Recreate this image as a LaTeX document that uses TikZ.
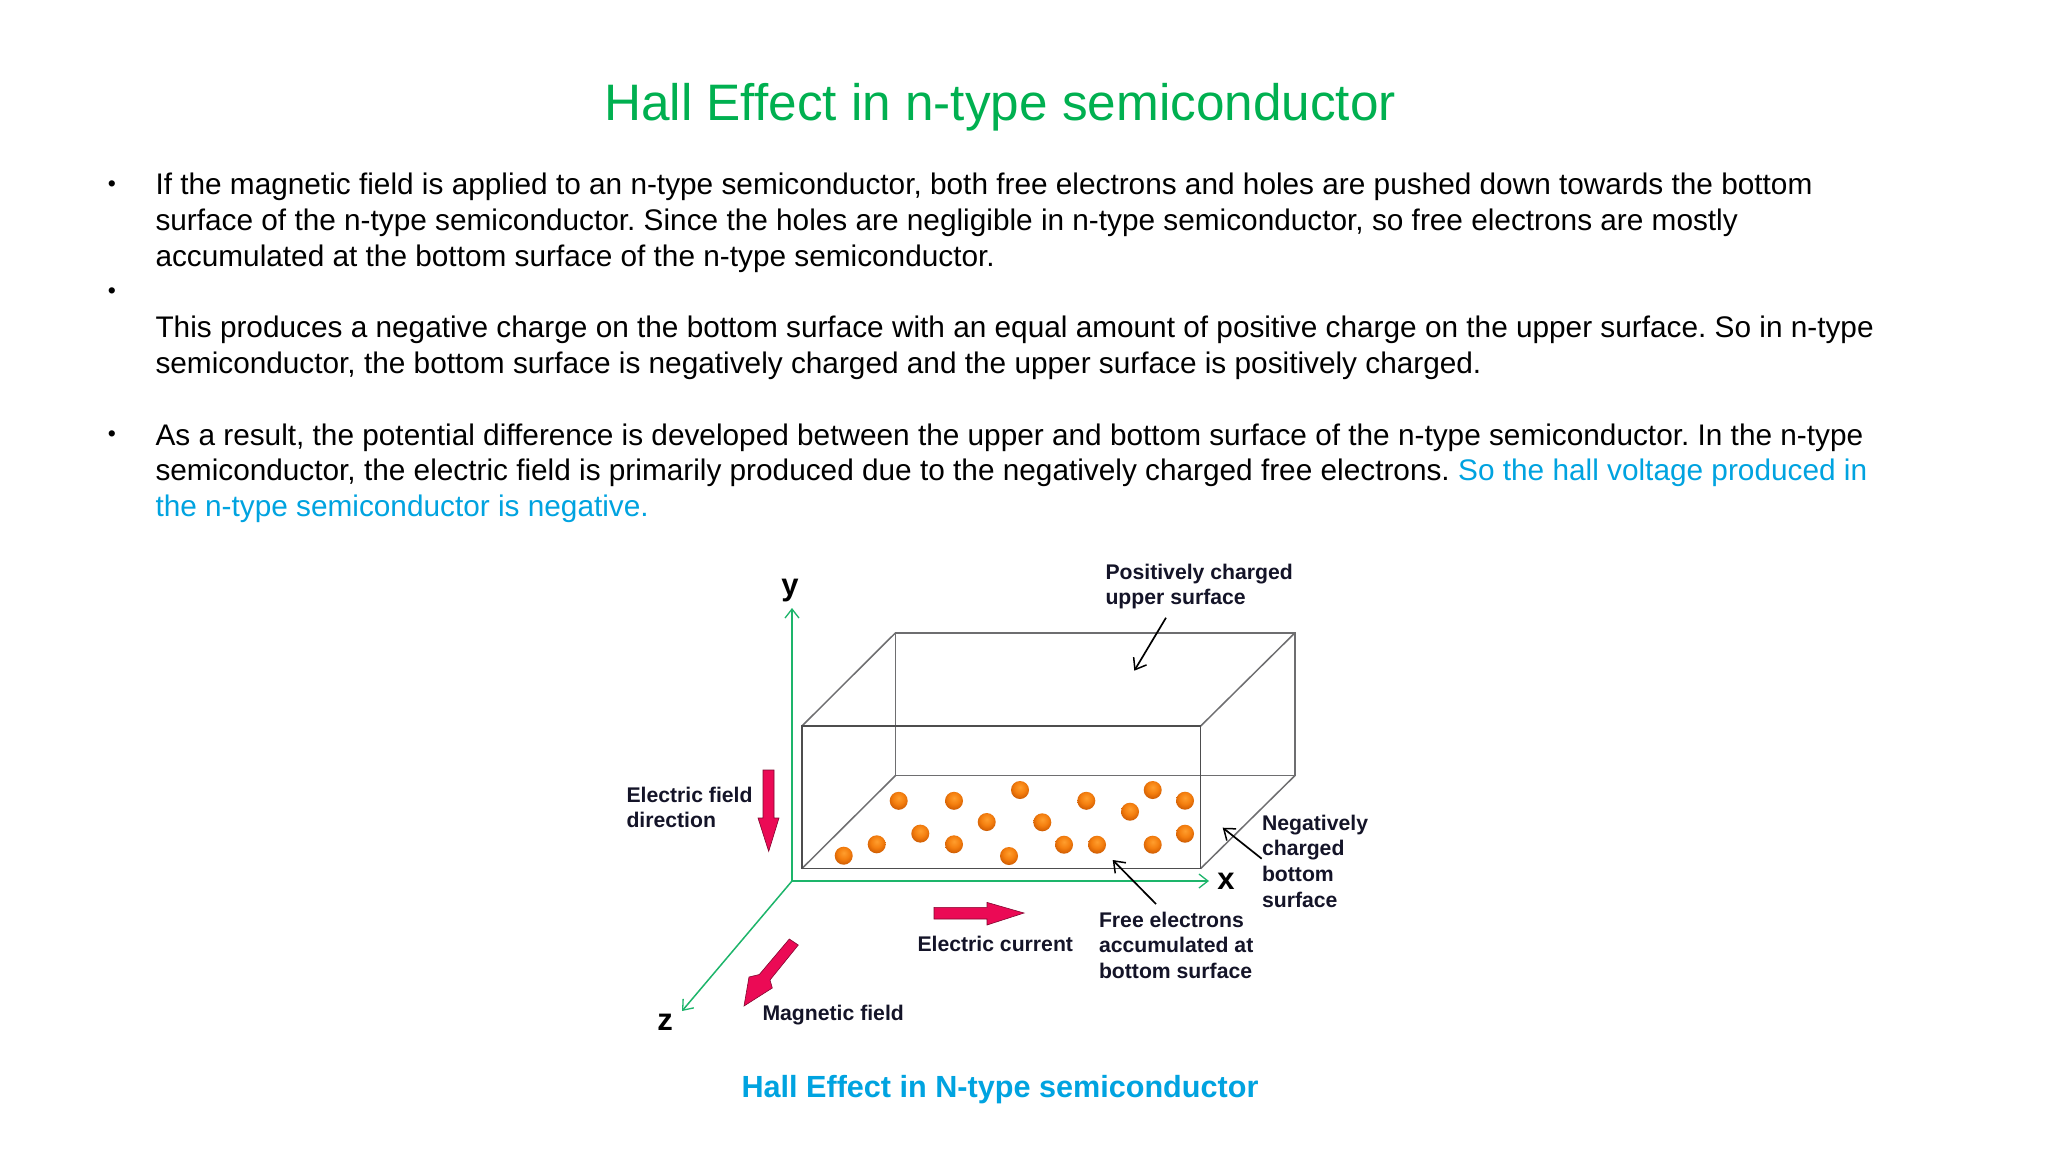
\documentclass[tikz,border=0pt]{standalone}
\usepackage{fontspec}
\setmainfont{Liberation Sans}
\usetikzlibrary{arrows.meta}
\definecolor{titlegreen}{HTML}{00B050}
\definecolor{linkblue}{HTML}{00A3E0}
\definecolor{axisgreen}{HTML}{1DB56B}
\definecolor{redarrow}{HTML}{EB0A55}
\definecolor{boxgrey}{HTML}{6E6E70}
\definecolor{labelink}{HTML}{141428}
\pgfdeclareradialshading{orangeball}{\pgfpoint{0bp}{8bp}}{
  rgb(0bp)=(1,0.62,0.18);
  rgb(16bp)=(0.96,0.50,0.06);
  rgb(26bp)=(0.86,0.40,0.02);
  rgb(36bp)=(0.66,0.30,0.02);
  rgb(60bp)=(0.55,0.25,0.02);
  rgb(100bp)=(0.55,0.25,0.02)}
\tikzset{
  x=1pt,y=-1pt,
  every node/.style={inner sep=0pt,outer sep=0pt},
  titletext/.style={font=\fontsize{51.3}{60}\selectfont,text=titlegreen,anchor=base},
  bodytext/.style={font=\fontsize{29.78}{35.8}\selectfont\frenchspacing,text=black,anchor=north west,align=left},
  bullettext/.style={font=\fontsize{23}{30}\selectfont,text=black,anchor=base},
  labeltext/.style={font=\fontsize{21.2}{25.6}\selectfont\bfseries,text=labelink,anchor=north west,align=left},
  axistext/.style={font=\fontsize{31}{36}\selectfont\bfseries,text=black,anchor=center},
  captiontext/.style={font=\fontsize{30.6}{36}\selectfont\bfseries,text=linkblue,anchor=base},
  axisline/.style={draw=axisgreen,line width=1.8pt,-{Straight Barb[length=9pt,width=14pt,line width=1.3pt]}},
  boxfront/.style={draw=boxgrey!70!black,line width=1.5pt},
  boxback/.style={draw=boxgrey,line width=1.5pt},
  pointer/.style={draw=black,line width=1.7pt,-{Straight Barb[length=10pt,width=15pt,line width=1.5pt]}},
  fieldarrow/.style={fill=redarrow,draw=black!45!redarrow,line width=0.6pt,line join=miter},
  ball/.style={circle,minimum size=18pt,draw=none,shading=orangeball},
}
\begin{document}
\begin{tikzpicture}
\useasboundingbox (0,0) rectangle (2048,1152);
\fill[white] (0,0) rectangle (2048,1152);

% heading and body
\node[titletext] (title) at (1000,120) {Hall Effect in n-type semiconductor};
\node[bullettext] (b1) at (112,191) {•};
\node[bodytext] (p1) at (155.5,173) {If the magnetic field is applied to an n-type semiconductor, both free electrons and holes are pushed down towards the bottom\\surface of the n-type semiconductor. Since the holes are negligible in n-type semiconductor, so free electrons are mostly\\accumulated at the bottom surface of the n-type semiconductor.};
\node[bullettext] (b2) at (112,298) {•};
\node[bodytext] (p2) at (155.5,316) {This produces a negative charge on the bottom surface with an equal amount of positive charge on the upper surface. So in n-type\\semiconductor, the bottom surface is negatively charged and the upper surface is positively charged.};
\node[bullettext] (b3) at (112,441) {•};
\node[bodytext] (p3) at (155.5,423.5) {As a result, the potential difference is developed between the upper and bottom surface of the n-type semiconductor. In the n-type\\semiconductor, the electric field is primarily produced due to the negatively charged free electrons. \textcolor{linkblue}{So the hall voltage produced in}\\\textcolor{linkblue}{the n-type semiconductor is negative.}};

% box corners
\coordinate (fnw) at (802,726);
\coordinate (fne) at (1200.7,726);
\coordinate (fse) at (1200.7,868.5);
\coordinate (fsw) at (802,868.5);
\coordinate (bnw) at (895.5,632.8);
\coordinate (bne) at (1295,632.8);
\coordinate (bse) at (1295,775.5);
\coordinate (bsw) at (895.5,775.5);
\draw[boxback] (bsw) -- (bnw) -- (bne) -- (bse) -- cycle;
\draw[boxback] (fnw) -- (bnw) (fne) -- (bne) (fsw) -- (bsw) (fse) -- (bse);
\draw[boxfront] (fnw) -- (fne) -- (fse) -- (fsw) -- cycle;

% electrons
\foreach \n/\px/\py in {a/898.7/800.8,b/954/800.8,c/1020/790,d/1086.3/800.8,e/986.7/822,f/1042.3/822.3,g/920.3/833.6,h/876.7/844.3,i/954/844.3,j/843.7/855.7,k/1009/856,l/1064/844.7,m/1097/844.7,n/1152.7/844.7,o/1152.7/790,p/1185/800.7,q/1130/811.7,r/1185/833.7}
  \node[ball] (e\n) at (\px,\py) {};

% axes
\coordinate (origin) at (792,881);
\coordinate (ytip) at (792,608);
\coordinate (xtip) at (1209,881);
\coordinate (ztip) at (682,1011);
\draw[axisline] (origin) -- (ytip);
\draw[axisline] (origin) -- (xtip);
\draw[axisline,line width=1.5pt] (origin) -- (ztip);
\node[axistext] (ylabel) at (790,591) {y};
\node[axistext] (xlabel) at (1226,881) {x};
\node[axistext] (zlabel) at (665,1022) {z};

% red field arrows
\filldraw[fieldarrow] (763,770) -- (774,770) -- (774,818) -- (779,818) -- (768.7,851.4) -- (758,818) -- (763,818) -- cycle;
\filldraw[fieldarrow] (934,907.4) -- (987,907.4) -- (987,902.4) -- (1024,913) -- (987,925) -- (987,919) -- (934,919) -- cycle;
\filldraw[fieldarrow] (789.3,939) -- (798.3,945) -- (770,980) -- (772.3,988) -- (744,1006) -- (749,977) -- (759.3,974.5) -- cycle;

% labels
\node[labeltext] (lpos) at (1105.5,564) {Positively charged\\upper surface};
\node[labeltext] (lfield) at (626.5,787) {Electric field\\direction};
\node[labeltext] (lcurrent) at (917.5,936) {Electric current};
\node[labeltext] (lmag) at (762.5,1005) {Magnetic field};
\node[labeltext] (lfree) at (1099,912) {Free electrons\\accumulated at\\bottom surface};
\node[labeltext] (lneg) at (1262,815) {Negatively\\charged\\bottom\\surface};

% pointers
\coordinate (ptop) at (1134.3,670.7);
\coordinate (pneg) at (1222.7,827.7);
\coordinate (pfree) at (1112.7,860);
\draw[pointer] (1166,617.7) -- (ptop);
\draw[pointer] (1261.7,858.7) -- (pneg);
\draw[pointer] (1156,904) -- (pfree);

\node[captiontext] (caption) at (1000,1097) {Hall Effect in N-type semiconductor};
\end{tikzpicture}
\end{document}
